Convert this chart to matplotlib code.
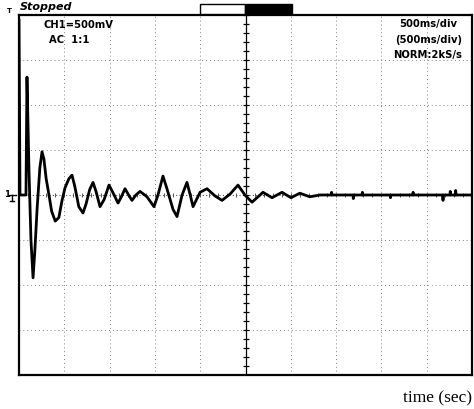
import numpy as np
import matplotlib
matplotlib.use("Agg")
import matplotlib.pyplot as plt
from matplotlib.patches import Rectangle

# scope trace: time (s), voltage (V)
trace_t = [0.0, 0.011, 0.077, 0.088, 0.11, 0.132, 0.155, 0.175, 0.2, 0.23,
           0.254, 0.275, 0.3, 0.331, 0.36, 0.4, 0.44, 0.475, 0.508, 0.55,
           0.585, 0.615, 0.66, 0.706, 0.74, 0.78, 0.817, 0.85, 0.894, 0.94,
           0.993, 1.04, 1.093, 1.13, 1.17, 1.21, 1.247, 1.29, 1.336, 1.413,
           1.49, 1.534, 1.589, 1.63, 1.7, 1.744, 1.8, 1.854, 1.89, 1.921,
           1.998, 2.075, 2.163, 2.241, 2.329, 2.417, 2.494, 2.572, 2.693, 2.793,
           2.903, 3.002, 3.1, 3.21, 3.32]
trace_v = [1.94, 0.0, 0.0, 1.31, 0.28, -0.5, -0.92, -0.62, -0.15, 0.3,
           0.48, 0.4, 0.18, 0.0, -0.18, -0.29, -0.25, -0.06, 0.08, 0.18,
           0.22, 0.1, -0.13, -0.2, -0.1, 0.06, 0.14, 0.04, -0.13, -0.05,
           0.11, 0.02, -0.09, -0.02, 0.07, 0.0, -0.06, 0.0, 0.04, -0.02,
           -0.13, 0.0, 0.21, 0.08, -0.16, -0.24, 0.0, 0.14, 0.0, -0.13,
           0.03, 0.07, -0.01, -0.06, 0.01, 0.11, 0.0, -0.08, 0.03, -0.03,
           0.03, -0.03, 0.02, -0.02, 0.0]

# small noise blips on the settled part of the trace
blip_t = [3.45, 3.69, 3.79, 4.1, 4.35, 4.68, 4.76, 4.82]
blip_v = [0.03, -0.04, 0.03, -0.03, 0.03, -0.06, 0.04, 0.05]

t_div = 0.5   # 500 ms/div
v_div = 0.5   # 500 mV/div
n_x, n_y = 10, 8

# build the full trace
full_t = list(trace_t)
full_v = list(trace_v)
for bt, bv in zip(blip_t, blip_v):
    full_t += [bt - 0.004, bt, bt + 0.004]
    full_v += [0.0, bv, 0.0]
full_t.append(n_x * t_div)
full_v.append(0.0)
order = np.argsort(full_t, kind="stable")
full_t = np.array(full_t)[order]
full_v = np.array(full_v)[order]

fig = plt.figure(figsize=(4.74, 4.09), dpi=100)
ax = fig.add_axes([19 / 474, 1 - 375 / 409, 453 / 474, 360 / 409])

xmax = n_x * t_div
ymax = n_y / 2 * v_div
ax.set_xlim(0, xmax)
ax.set_ylim(-ymax, ymax)
ax.set_xticks([])
ax.set_yticks([])
for s in ax.spines.values():
    s.set_linewidth(1.6)
    s.set_color("black")

grid_kw = dict(color="#808080", lw=0.7, ls=(0, (1, 3)), zorder=1)
for i in range(1, n_x):
    if i != n_x // 2:
        ax.axvline(i * t_div, **grid_kw)
for j in range(1, n_y):
    if j != n_y // 2:
        ax.axhline(-ymax + j * v_div, **grid_kw)

# centre graticule lines with minor ticks
ax.axvline(xmax / 2, color="black", lw=0.9, zorder=1)
ax.axhline(0, color="#555555", lw=0.8, ls=(0, (1, 2)), zorder=1)
yt = np.arange(-ymax, ymax + 1e-9, v_div / 5)
ax.plot(np.full_like(yt, xmax / 2), yt, ls="none", marker="_", ms=4,
        mew=0.9, color="black", zorder=1)
xt = np.arange(0, xmax + 1e-9, t_div / 5)
ax.plot(xt, np.zeros_like(xt), ls="none", marker="|", ms=2.5,
        mew=0.7, color="#555555", zorder=1)

ax.plot(full_t, full_v, color="black", lw=2.0, zorder=3,
        solid_joinstyle="round")

# on-screen readouts
ro = dict(fontsize=7.2, fontweight="bold", family="DejaVu Sans",
          transform=fig.transFigure, va="center")
fig.text(43 / 474, 1 - 25 / 409, "CH1=500mV", ha="left", **ro)
fig.text(49 / 474, 1 - 40 / 409, "AC  1:1", ha="left", **ro)
fig.text(457 / 474, 1 - 24 / 409, "500ms/div", ha="right", **ro)
fig.text(462 / 474, 1 - 40 / 409, "(500ms/div)", ha="right", **ro)
fig.text(462 / 474, 1 - 55 / 409, "NORM:2kS/s", ha="right", **ro)

fig.text(20 / 474, 1 - 7 / 409, "Stopped", fontsize=8, fontweight="bold",
         style="italic", ha="left", va="center")
fig.text(7 / 474, 1 - 11 / 409, "T", fontsize=5, fontweight="bold",
         ha="left", va="center")

# trigger position bar
fig.patches.append(Rectangle((200 / 474, 1 - 14 / 409), 45 / 474, 10 / 409,
                             transform=fig.transFigure, facecolor="white",
                             edgecolor="black", lw=1.0))
fig.patches.append(Rectangle((245 / 474, 1 - 14 / 409), 47 / 474, 10 / 409,
                             transform=fig.transFigure, facecolor="black",
                             edgecolor="black", lw=1.0))

# channel ground marker
fig.text(4 / 474, 1 - 194 / 409, "1", fontsize=6, fontweight="bold",
         ha="left", va="center")
fig.add_artist(plt.Line2D([9 / 474, 16 / 474], [1 - 195 / 409] * 2,
                          color="black", lw=1.0))
fig.add_artist(plt.Line2D([12 / 474, 12 / 474],
                          [1 - 195 / 409, 1 - 201 / 409],
                          color="black", lw=1.0))
fig.add_artist(plt.Line2D([10 / 474, 14 / 474], [1 - 201 / 409] * 2,
                          color="black", lw=1.0))

fig.text(472 / 474, 1 - 398 / 409, "time (sec)", family="Liberation Serif",
         fontsize=12.5, ha="right", va="center")

fig.savefig("out.png", dpi=100)
